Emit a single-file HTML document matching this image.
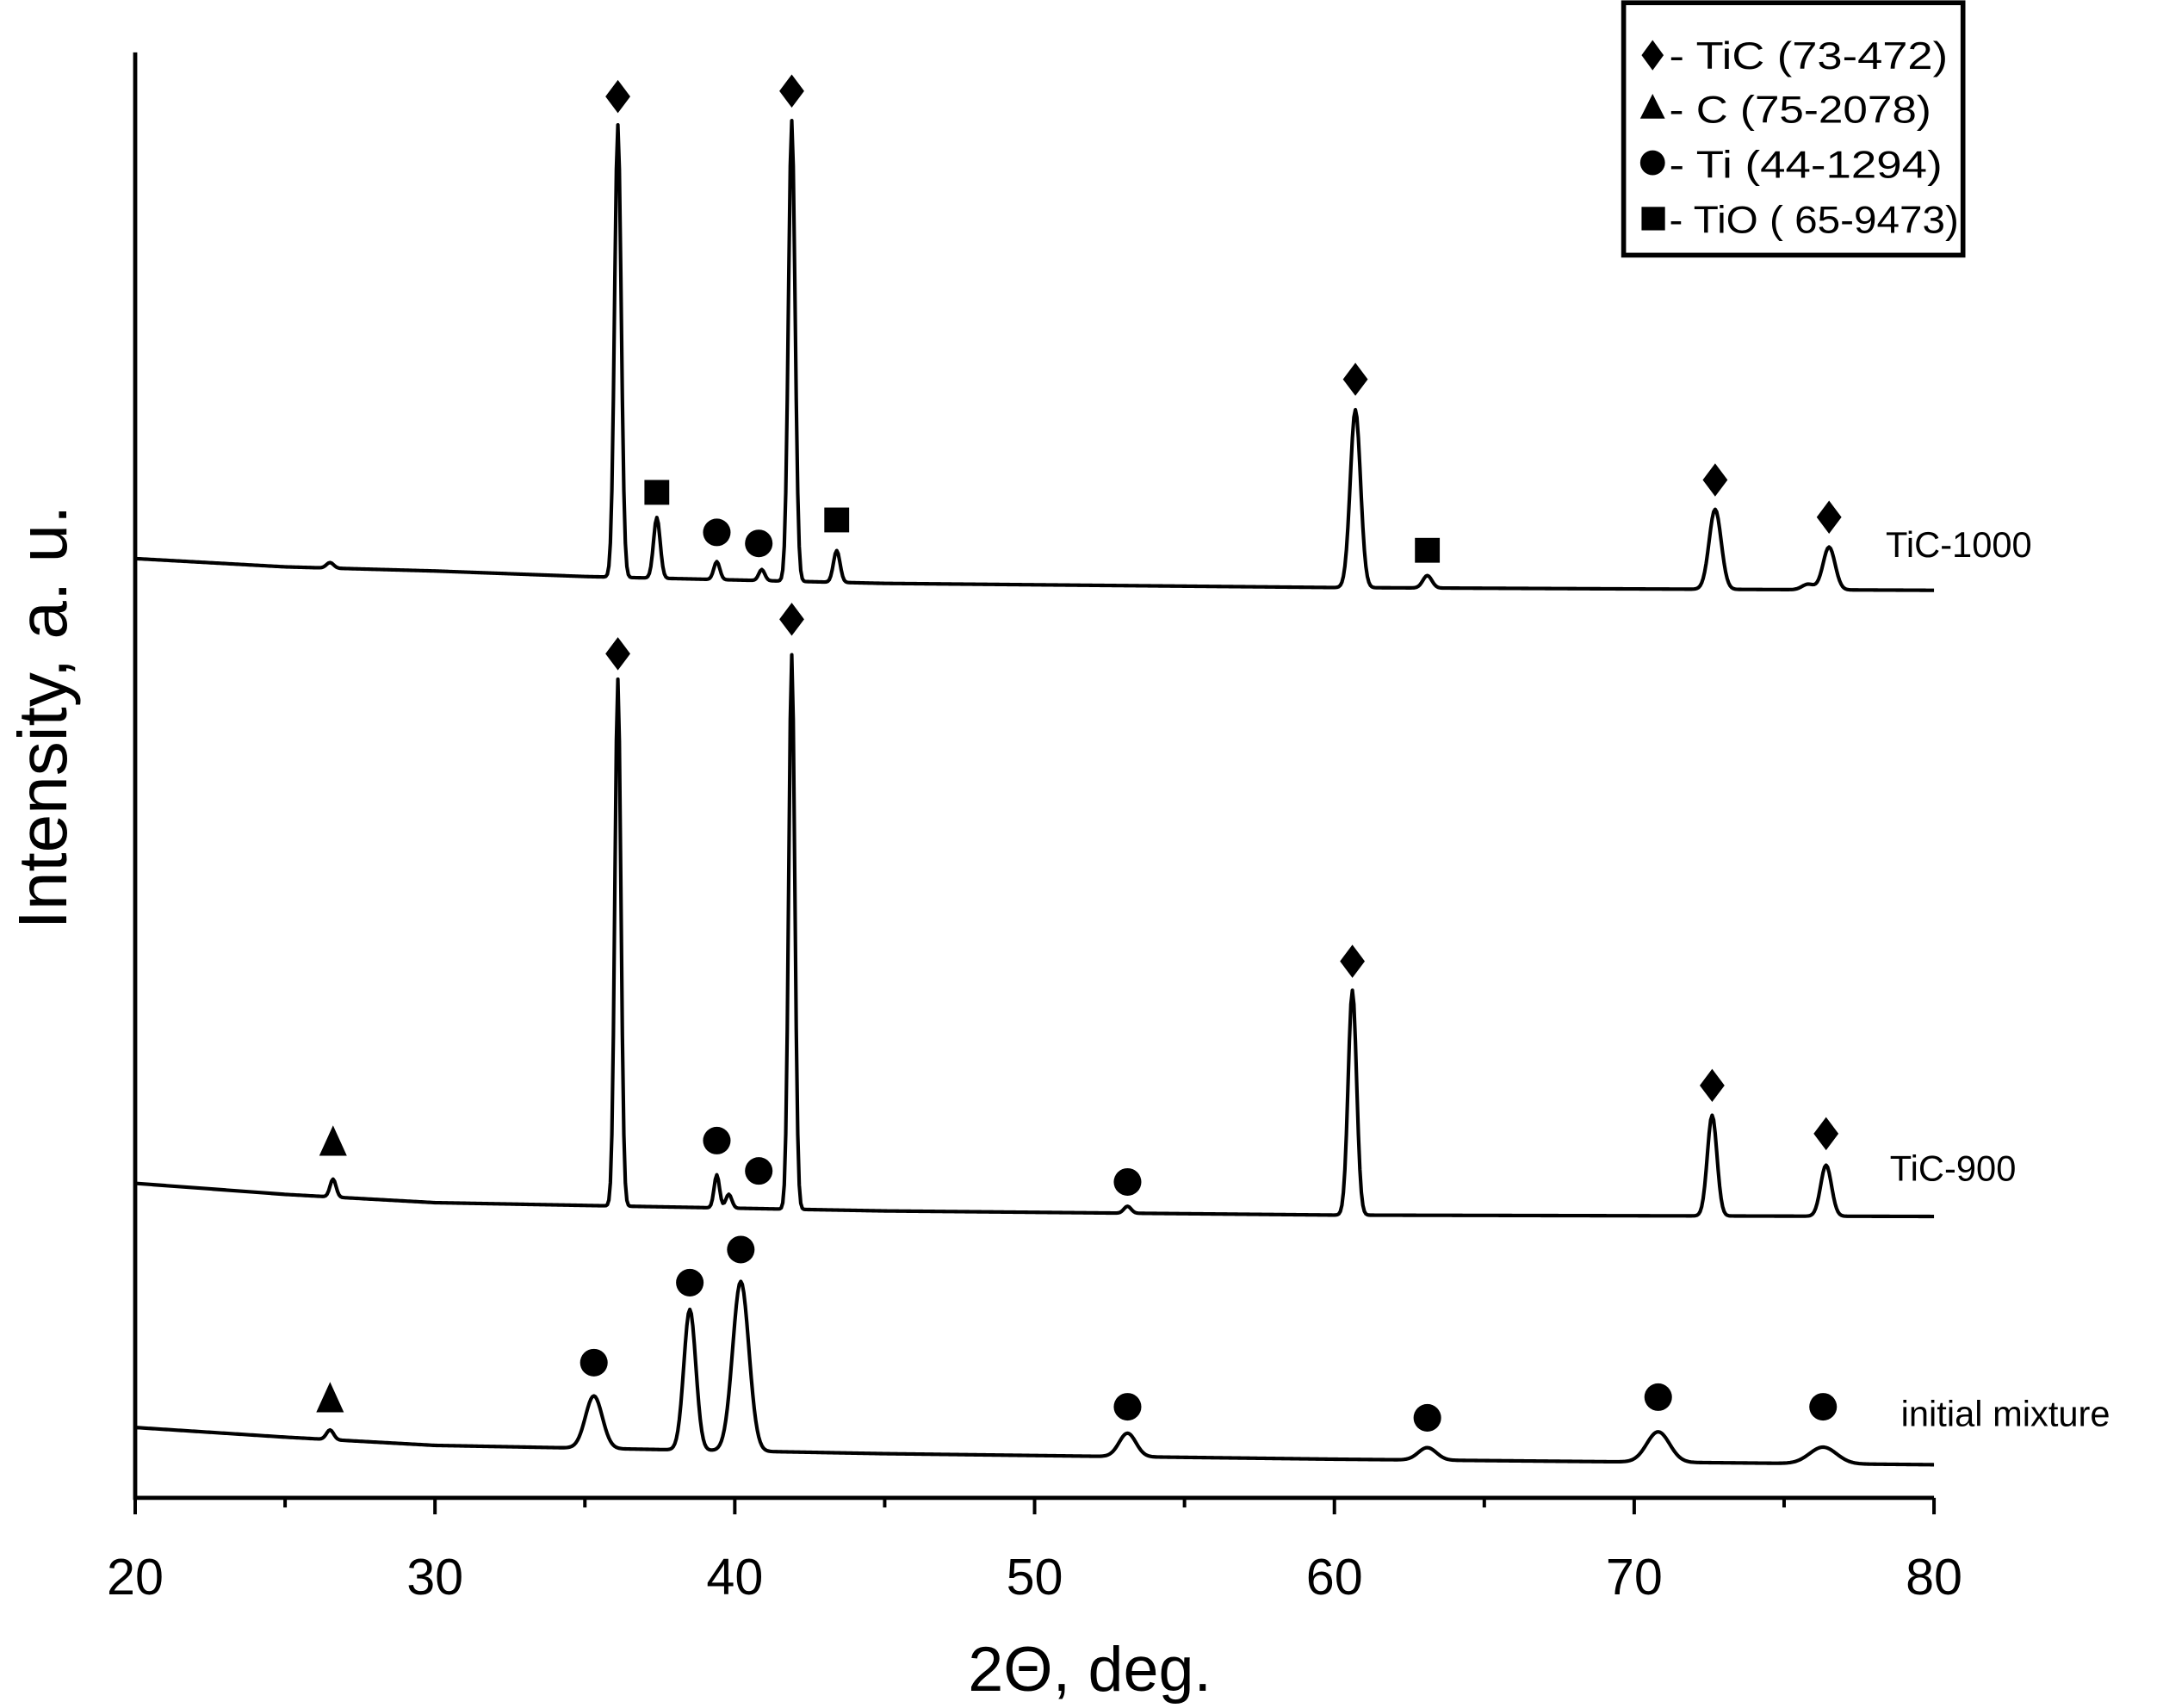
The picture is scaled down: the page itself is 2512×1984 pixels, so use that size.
<!DOCTYPE html>
<html><head><meta charset="utf-8"><style>
html,body{margin:0;padding:0;background:#fff;}
svg{display:block;font-family:"Liberation Sans",Arial,sans-serif;}
</style></head><body>
<svg id="chart" width="2512" height="1984" viewBox="0 0 1568 1238.4" preserveAspectRatio="none" xmlns="http://www.w3.org/2000/svg">
<rect width="1568" height="1238.4" fill="#fff"/>
<g id="plot"></g>
<g id="axes"></g>
<g id="legend">
  <rect x="1177" y="2" width="246" height="183" fill="#fff" stroke="#000" stroke-width="3.5"/>
  <g><path d="M1198,29 L1206,40 L1198,51 L1190,40Z" fill="#000"/><text x="1210" y="50" font-size="28" textLength="202" lengthAdjust="spacingAndGlyphs">- TiC (73-472)</text></g>
  <g><path d="M1198,68 L1207,86 L1189,86Z" fill="#000"/><text x="1210" y="89" font-size="28" textLength="190" lengthAdjust="spacingAndGlyphs">- C (75-2078)</text></g>
  <g><circle cx="1198" cy="118" r="9" fill="#000"/><text x="1210" y="129" font-size="28" textLength="198" lengthAdjust="spacingAndGlyphs">- Ti (44-1294)</text></g>
  <g><rect x="1190" y="150" width="17" height="17" fill="#000"/><text x="1210" y="169" font-size="28" textLength="210" lengthAdjust="spacingAndGlyphs">- TiO ( 65-9473)</text></g>
</g>
</svg>
<script>
// ---- data (intensity units: 0 at x-axis, 1048 at top) ----
const xTicks = [20,30,40,50,60,70,80];
const seriesNames = ['TiC-1000','TiC-900','initial mixture'];
// baselines: [2theta, intensity]
const base1000 = [[20,681],[25,675],[30,672],[35,668],[45,663],[60,660],[80,658]];
const base900  = [[20,228],[25,220],[30,214],[35,212],[45,208],[60,205],[80,204]];
const baseInit = [[20,51],[25,44],[30,38],[35,36],[45,32],[60,28],[80,24]];
// peaks: [position, height above baseline, sigma]
const peaks1000 = [[26.5,4,0.12],[36.1,328,0.11],[37.4,44,0.11],[39.4,13,0.1],[40.9,8,0.1],[41.9,334,0.11],[43.4,23,0.11],[60.7,129,0.17],[63.1,9,0.15],[72.7,58,0.2],[75.8,4,0.2],[76.5,31,0.2]];
const peaks900  = [[26.6,13,0.1],[36.1,382,0.1],[39.4,24,0.09],[39.8,10,0.1],[41.9,402,0.1],[53.1,5,0.12],[60.6,163,0.14],[72.6,73,0.16],[76.4,37,0.18]];
const peaksInit = [[26.5,7,0.12],[35.3,38,0.28],[38.5,102,0.2],[40.2,123,0.27],[53.1,17,0.28],[63.1,9,0.3],[70.8,22,0.38],[76.3,12,0.45]];
// markers: [2theta, intensity, type]
const markers = [
 [36.1,1016,'d'],[41.9,1020,'d'],[60.7,811,'d'],[72.7,738,'d'],[76.5,711,'d'],
 [37.4,729,'s'],[43.4,709,'s'],[63.1,687,'s'],[39.4,700,'c'],[40.8,692,'c'],
 [36.1,612,'d'],[41.9,637,'d'],[60.6,389,'d'],[72.6,299,'d'],[76.4,264,'d'],
 [26.6,258,'t'],[39.4,259,'c'],[40.8,237,'c'],[53.1,229,'c'],
 [26.5,72,'t'],[35.3,98,'c'],[38.5,156,'c'],[40.2,180,'c'],[53.1,66,'c'],[63.1,58,'c'],[70.8,73,'c'],[76.3,66,'c']
];
// ---- scales ----
const X0=98,X1=1402,Y0=1086,Y1=38;
const xs=v=>X0+(v-20)/60*(X1-X0);
const ys=v=>Y0-(v)/1048*(Y0-Y1);
const NS='http://www.w3.org/2000/svg';
function mk(tag,attrs,parent){const e=document.createElementNS(NS,tag);for(const k in attrs)e.setAttribute(k,attrs[k]);parent.appendChild(e);return e;}
function interp(b,x){for(let i=0;i<b.length-1;i++){if(x>=b[i][0]&&x<=b[i+1][0]){const t=(x-b[i][0])/(b[i+1][0]-b[i][0]);return b[i][1]+t*(b[i+1][1]-b[i][1]);}}return b[b.length-1][1];}
const plot=document.getElementById('plot'),axes=document.getElementById('axes');
const sets=[[base1000,peaks1000],[base900,peaks900],[baseInit,peaksInit]];
sets.forEach((s,si)=>{
  let d='';
  for(let i=0;i<=1200;i++){const x=20+i*0.05;let v=interp(s[0],x);
    s[1].forEach(p=>{v+=p[1]*Math.exp(-Math.pow(x-p[0],2)/(2*p[2]*p[2]));});
    d+=(i?'L':'M')+xs(x).toFixed(2)+','+ys(v).toFixed(2);}
  const p=mk('path',{d:d,fill:'none',stroke:'#000','stroke-width':2.6,'stroke-linejoin':'round'},plot);
  
  
});
markers.forEach(m=>{const cx=xs(m[0]),cy=ys(m[1]);let e;
  if(m[2]==='d')e=mk('path',{d:`M${cx},${cy-12}L${cx+9},${cy}L${cx},${cy+12}L${cx-9},${cy}Z`,fill:'#000'},plot);
  else if(m[2]==='s')e=mk('rect',{x:cx-9,y:cy-9,width:18,height:18,fill:'#000'},plot);
  else if(m[2]==='c')e=mk('circle',{cx:cx,cy:cy,r:10,fill:'#000'},plot);
  else e=mk('path',{d:`M${cx},${cy-12}L${cx+10},${cy+10}L${cx-10},${cy+10}Z`,fill:'#000'},plot);
  
  
});
const labelPos=[[1367,404],[1370,856],[1378,1034]];
seriesNames.forEach((n,i)=>{const t=mk('text',{x:labelPos[i][0],y:labelPos[i][1],'font-size':26},plot);t.textContent=n;
  
  });
// axes
const ax=mk('path',{d:`M${X0},${Y1}L${X0},${Y0}L${X1},${Y0}`,fill:'none',stroke:'#000','stroke-width':3},axes);


for(let v=20;v<=80;v+=5){const l=mk('line',{x1:xs(v),x2:xs(v),y1:Y0,y2:Y0+(v%10===0?12:7),stroke:'#000','stroke-width':2.5},axes);
  
  }
xTicks.forEach(v=>{const t=mk('text',{x:xs(v),y:1156,'font-size':37,'text-anchor':'middle'},axes);t.textContent=v;
  
  });
const xt=mk('text',{x:790,y:1226,'font-size':46,'text-anchor':'middle'},axes);xt.textContent='2Θ, deg.';


const yt=mk('text',{x:0,y:0,'font-size':50,'text-anchor':'middle',transform:'translate(48,520) rotate(-90)'},axes);yt.textContent='Intensity, a. u.';


</script>
</body></html>
